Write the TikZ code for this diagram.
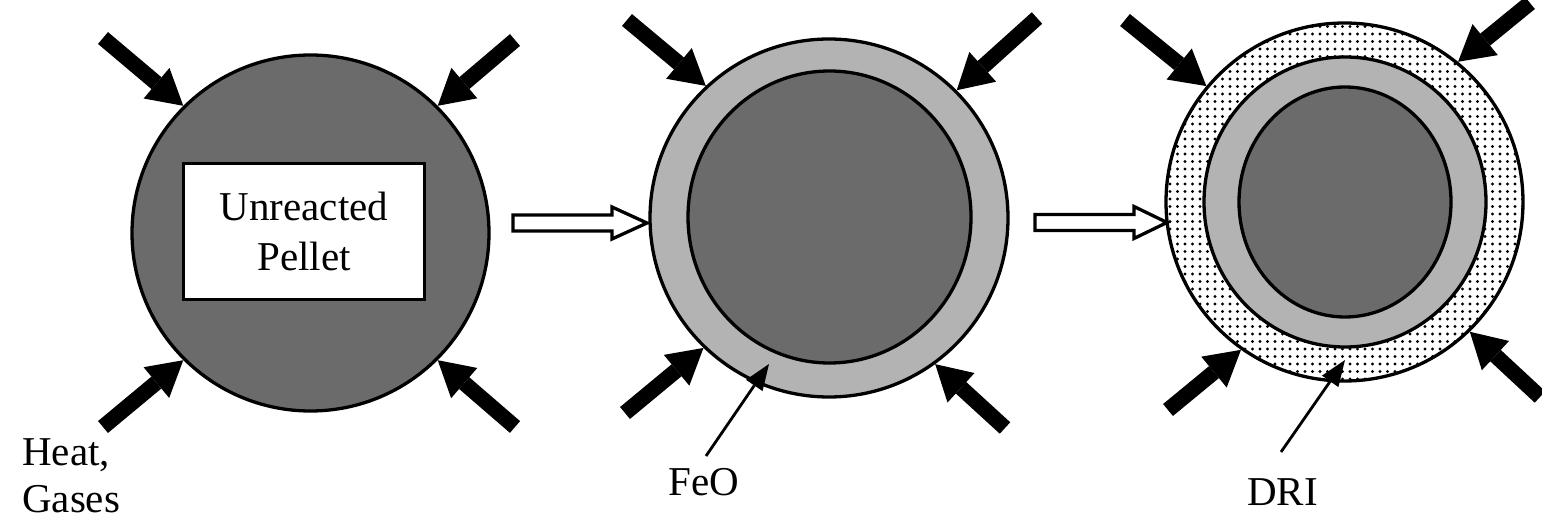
\documentclass[tikz,border=0pt]{standalone}
\usepackage{fontspec}
\setmainfont{Liberation Serif}
\usetikzlibrary{arrows.meta,shapes.geometric,patterns.meta}
\definecolor{coreg}{HTML}{6B6B6B}
\definecolor{ringg}{HTML}{B3B3B3}
\begin{document}
\begin{tikzpicture}[x=1pt,y=-1pt,
  every node/.style={inner sep=0pt},
  ball/.style={ellipse,draw=black,line width=3.3pt},
  blockarrow/.style={line width=15.5pt,-{Triangle[length=35pt,width=40pt,line width=0pt]}},
  pointer/.style={line width=2.8pt,-{Triangle[length=26pt,width=20pt,line width=0pt]}},
  hollow/.style={draw=black,fill=white,line width=3.3pt,line join=miter},
  lbl/.style={font=\fontsize{41}{50}\selectfont}
]
\useasboundingbox (0,0) rectangle (1542,529);

% ---------- pellet 1 ----------
\node[ball, fill=coreg, minimum width=357pt, minimum height=356pt] (c1) at (310.5,233) {};
\node[draw=black,fill=white,line width=3.3pt,minimum width=241pt,minimum height=136pt,
      align=center,lbl] (pellet) at (304,231.5) {Unreacted\\Pellet};

% ---------- pellet 2 ----------
\node[ball, fill=ringg, minimum width=358pt, minimum height=358pt] (c2) at (829,218) {};
\node[ball, fill=coreg, minimum width=283pt, minimum height=292pt] (c2i) at (829.5,217) {};

% ---------- pellet 3 ----------
\node[ball, preaction={fill=white}, pattern={Dots[distance=7.5pt,radius=1.6pt]},
      minimum width=357pt, minimum height=358pt] (c3) at (1344.5,202) {};
\node[ball, fill=ringg, minimum width=282pt, minimum height=290pt] (c3m) at (1345,202) {};
\node[ball, fill=coreg, minimum width=212pt, minimum height=230pt] (c3i) at (1345,202) {};

% ---------- heat / gas arrows ----------
\coordinate (a1) at (103,38);  \coordinate (a2) at (515,40);
\coordinate (a3) at (103,427); \coordinate (a4) at (515,427);
\draw[blockarrow] (a1) -- (c1.135);
\draw[blockarrow] (a2) -- (c1.45);
\draw[blockarrow] (a3) -- (c1.-135);
\draw[blockarrow] (a4) -- (c1.-45);

\coordinate (b1) at (627,20);  \coordinate (b2) at (1037,18);
\coordinate (b3) at (625,413); \coordinate (b4) at (1005,428);
\draw[blockarrow] (b1) -- (c2.133.4);
\draw[blockarrow] (b2) -- (c2.45.2);
\draw[blockarrow] (b3) -- (c2.-134);
\draw[blockarrow] (b4) -- (c2.-54.2);

\coordinate (d1) at (1125,20);  \coordinate (d2) at (1530,3);
\coordinate (d3) at (1168,410); \coordinate (d4) at (1540,397);
\draw[blockarrow] (d1) -- (c3.140.9);
\draw[blockarrow] (d2) -- (c3.51.2);
\draw[blockarrow] (d3) -- (c3.-125.4);
\draw[blockarrow] (d4) -- (c3.-46);

% ---------- hollow process arrows ----------
\coordinate (h1) at (647,223);
\coordinate (h2) at (1167,222.5);
\draw[hollow] (h1) -- ++(-35,-16) -- ++(0,8) -- ++(-99,0) -- ++(0,16) -- ++(99,0) -- ++(0,8) -- cycle;
\draw[hollow] (h2) -- ++(-33,-16) -- ++(0,8) -- ++(-99,0) -- ++(0,16) -- ++(99,0) -- ++(0,8) -- cycle;

% ---------- labels ----------
\node[lbl,anchor=base west] (heat) at (22,465) {Heat,};
\node[lbl,anchor=base west] (gases) at (22,512) {Gases};
\node[lbl,anchor=base west] (feo) at (668,495) {FeO};
\node[lbl,anchor=base west] (dri) at (1247,505) {DRI};

\coordinate (feos) at (706,456); \coordinate (feot) at (769,364);
\coordinate (dris) at (1281,452); \coordinate (drit) at (1345,360);
\draw[pointer] (feos) -- (feot);
\draw[pointer] (dris) -- (drit);
\end{tikzpicture}
\end{document}
